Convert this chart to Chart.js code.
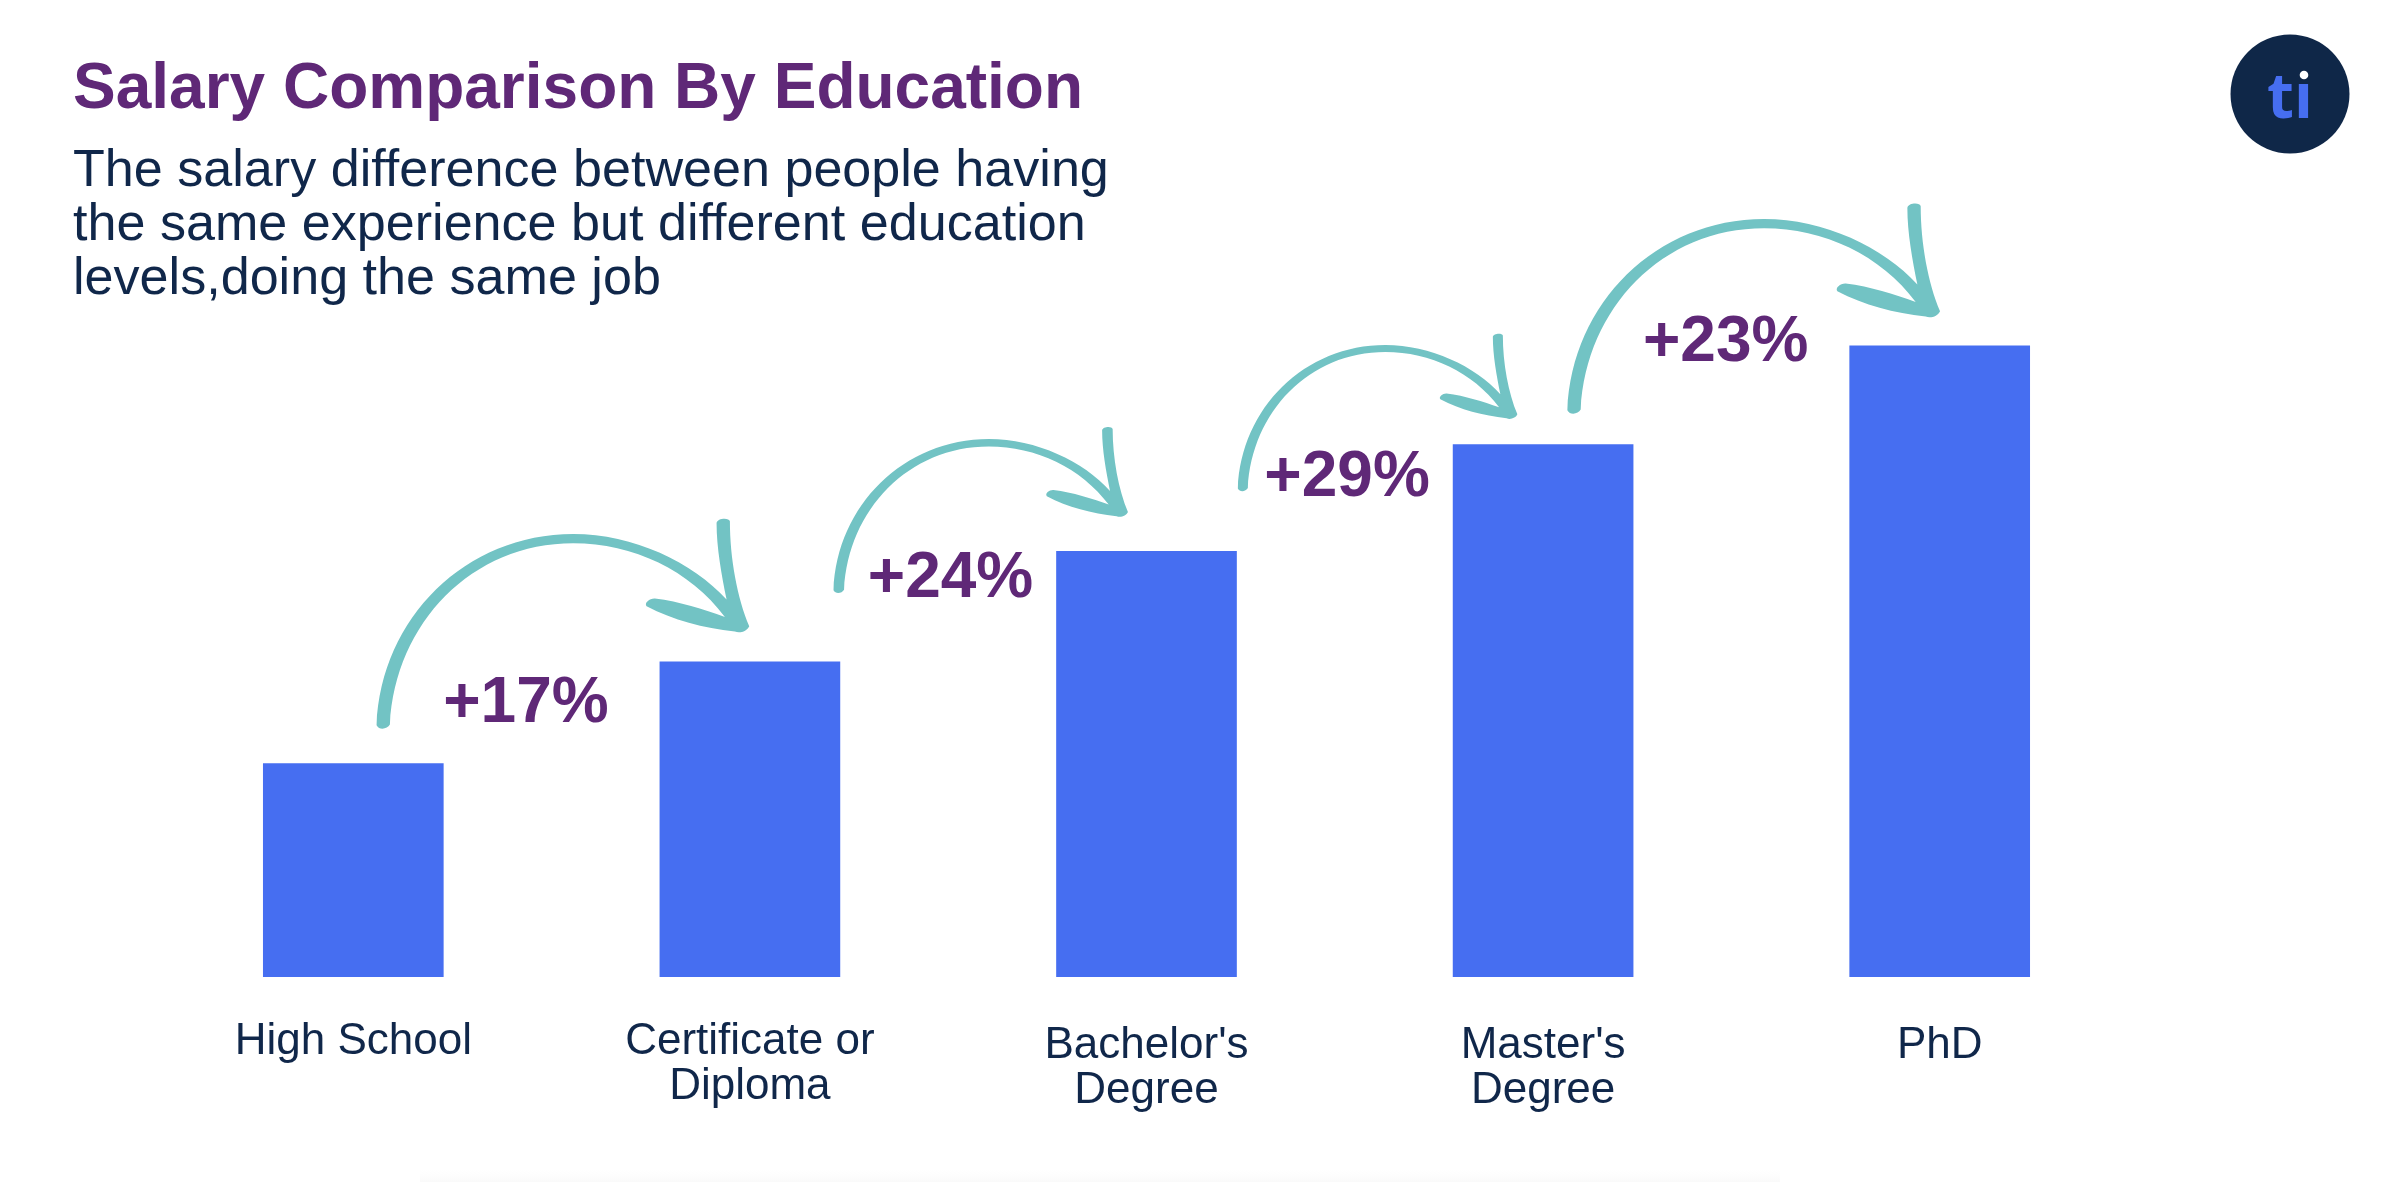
<!DOCTYPE html>
<html>
<head>
<meta charset="utf-8">
<title>Salary Comparison By Education</title>
<script src="https://cdn.jsdelivr.net/npm/chart.js@4/dist/chart.umd.min.js"></script>
<style>
  html, body { margin: 0; background: #fff; overflow: hidden; }
  #fade { position: absolute; left: 420px; top: 1170px; width: 1360px; height: 12px;
          background: linear-gradient(rgba(250,250,250,0), rgba(250,250,250,1)); }
  canvas { position: absolute; left: 0; top: 0; }
</style>
</head>
<body>
<div id="fade"></div>
<canvas id="salaryChart" width="2382" height="1182"></canvas>
<script>
// values (no axis in the original, so bar heights are relative)
const categories = ["High School", ["Certificate or", "Diploma"], ["Bachelor's", "Degree"], ["Master's", "Degree"], "PhD"];
const salaryLevels = [214, 316, 427, 534, 633];
const gains = ["+17%", "+24%", "+29%", "+23%"];

const titleText = "Salary Comparison By Education";
const subtitleLines = [
  "The salary difference between people having",
  "the same experience but different education",
  "levels,doing the same job"
];

// hand tuned placement of the annotations, relative to the bar the arrow lands on
const arrowTipDx = [-5, -22, -29, -4];
const arrowTipDy = [-34, -38, -29, -33];
const arrowScale = [1, 0.79, 0.75, 1];
const gainDx = [-224, -196, -196, -214];
const gainDy = [60, 46, 51, 15];
const labelTops = [1019, 1019, 1023, 1023, 1023];

const PURPLE = "#5f2877";
const NAVY = "#10274a";
const BLUE = "#466ef1";
const TEAL = "#72c3c4";
const FONT = "'Liberation Sans', Arial, sans-serif";

// hand drawn arrow outline, traced at 3x with the tip at about 1215,380
const arrowPath = new Path2D(
  "M110 672 C123 349 378 98 700 98 C880 98 1060 183 1160 295 " +
  "C1145 220 1130 140 1130 65 C1132 50 1168 48 1170 60 " +
  "C1170 170 1192 290 1228 375 C1222 390 1200 397 1185 391 " +
  "C1090 380 1000 357 920 315 C912 305 930 291 945 292 " +
  "C1020 301 1090 325 1155 347 C1050 207 880 126 700 126 " +
  "C396 126 166 365 150 670 C142 684 118 688 110 672 Z"
);

const annotations = {
  id: "annotations",
  beforeDraw(chart) {
    // the original's labels do not share one row
    chart.scales.x.getLabelItems().forEach((item, i) => {
      item.options.translation[1] = labelTops[i];
    });
  },
  afterDatasetsDraw(chart) {
    const { ctx } = chart;
    const bars = chart.getDatasetMeta(0).data;

    gains.forEach((gain, i) => {
      const next = bars[i + 1];
      ctx.save();
      ctx.translate(next.x + arrowTipDx[i], next.y + arrowTipDy[i]);
      ctx.scale(arrowScale[i] / 3, arrowScale[i] / 3);
      ctx.translate(-1215, -380);
      ctx.fillStyle = TEAL;
      ctx.fill(arrowPath);
      ctx.restore();

      ctx.save();
      ctx.fillStyle = PURPLE;
      ctx.font = "bold 64px " + FONT;
      ctx.textAlign = "center";
      ctx.textBaseline = "alphabetic";
      ctx.fillText(gain, next.x + gainDx[i], next.y + gainDy[i]);
      ctx.restore();
    });

    // logo top right
    ctx.save();
    ctx.fillStyle = "#0f2748";
    ctx.beginPath();
    ctx.arc(2290, 94, 59.5, 0, Math.PI * 2);
    ctx.fill();
    ctx.fillStyle = BLUE;
    ctx.font = "bold 62px 'Open Sans', sans-serif";
    ctx.textAlign = "center";
    ctx.textBaseline = "alphabetic";
    ctx.fillText("ti", 2290, 118);
    // swap the i dot for the white one
    ctx.fillStyle = "#0f2748";
    ctx.fillRect(2297, 62, 15, 22);
    ctx.fillStyle = "#fff";
    ctx.beginPath();
    ctx.arc(2304, 75, 4.3, 0, Math.PI * 2);
    ctx.fill();
    ctx.restore();
  }
};

new Chart(document.getElementById("salaryChart"), {
  type: "bar",
  data: {
    labels: categories,
    datasets: [{
      data: salaryLevels,
      backgroundColor: BLUE,
      barThickness: 180
    }]
  },
  plugins: [annotations],
  options: {
    responsive: false,
    devicePixelRatio: 1,
    animation: false,
    layout: { padding: { left: 73, right: 244, top: 58, bottom: 35 } },
    plugins: {
      legend: { display: false },
      tooltip: { enabled: false },
      title: {
        display: true,
        text: titleText,
        align: "start",
        color: PURPLE,
        font: { family: FONT, size: 64, weight: "bold", lineHeight: 1 },
        padding: { top: 0, bottom: 23 }
      },
      subtitle: {
        display: true,
        text: subtitleLines,
        align: "start",
        color: NAVY,
        font: { family: FONT, size: 52.1, weight: "normal", lineHeight: 54 / 52.1 },
        padding: { top: 0, bottom: 0 }
      }
    },
    scales: {
      x: {
        grid: { display: false, drawTicks: false },
        border: { display: false },
        ticks: {
          color: NAVY,
          maxRotation: 0,
          autoSkip: false,
          padding: 40,
          font: { family: FONT, size: 44, lineHeight: 45 / 44 }
        }
      },
      y: {
        min: 0,
        max: 672,
        grid: { display: false, drawTicks: false },
        border: { display: false },
        ticks: { display: false },
        afterFit(scale) { scale.width = 82; }
      }
    }
  }
});
</script>
</body>
</html>
